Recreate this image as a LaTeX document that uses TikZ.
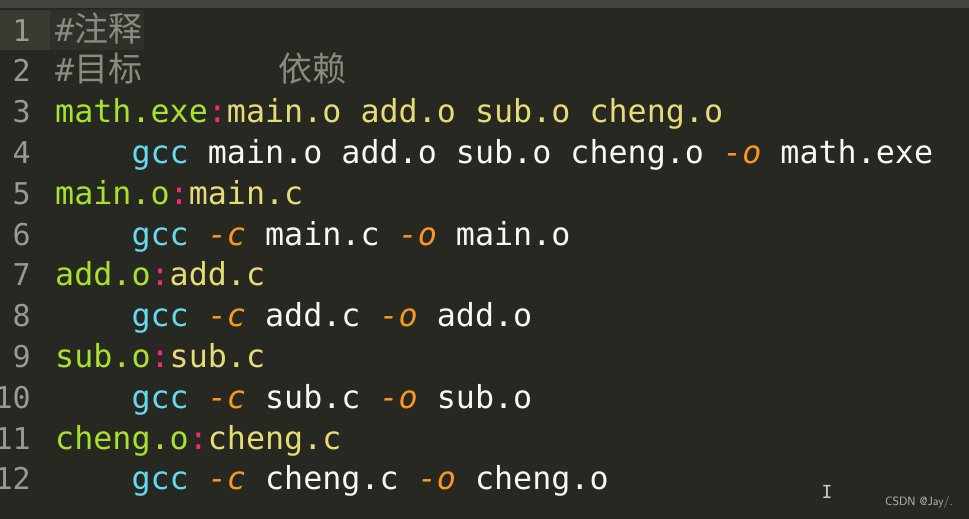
\documentclass[tikz,border=0pt]{standalone}
\usepackage{fontspec}
\setmonofont{DejaVu Sans Mono}
\newfontfamily\cjk{Noto Sans CJK SC}
\definecolor{bg}{HTML}{272822}
\definecolor{gut}{HTML}{3A3A33}
\definecolor{sel}{HTML}{302F2A}
\definecolor{tabbar}{HTML}{45453F}
\definecolor{wmc}{HTML}{BBBBB5}
\definecolor{curc}{HTML}{CCCCCC}
\definecolor{cmt}{HTML}{8A8A80}
\definecolor{grn}{HTML}{A6E22E}
\definecolor{pnk}{HTML}{F92672}
\definecolor{yel}{HTML}{E6DB74}
\definecolor{blu}{HTML}{66D9EF}
\definecolor{org}{HTML}{FD971F}
\definecolor{wht}{HTML}{F8F8F2}
\definecolor{num}{HTML}{9A9A94}
\newcommand\cG[1]{\textcolor{grn}{#1}}
\newcommand\cP[1]{\textcolor{pnk}{#1}}
\newcommand\cY[1]{\textcolor{yel}{#1}}
\newcommand\cB[1]{\textcolor{blu}{#1}}
\newcommand\cO[1]{\textcolor{org}{\itshape #1}}
\newcommand\cW[1]{\textcolor{wht}{#1}}
\begin{document}
\begin{tikzpicture}[x=1pt,y=-1pt,
  code/.style={anchor=mid west,inner sep=0pt,font=\ttfamily\fontsize{31.7}{32}\selectfont},
  ln/.style={anchor=mid east,inner sep=0pt,text=num,font=\ttfamily\fontsize{30}{32}\selectfont}]
\fill[bg] (0,0) rectangle (969,519);
\useasboundingbox (0,0) rectangle (969,519);
\fill[tabbar] (0,0) rectangle (969,8);
\fill[gut] (0,10) rectangle (50,50);
\fill[sel] (50,10) rectangle (144,50);
\foreach \i in {1,...,12}{
  \node[ln] (n\i) at (31,{39+40.8*(\i-1)}) {\i};
}
\node[code,text=cmt] (l1) at (55,39) {\#{\cjk\fontsize{34}{34}\selectfont 注释}};
\node[code,text=cmt] (l2) at (55,79.8) {\#{\cjk\fontsize{34}{34}\selectfont 目标}};
\node[code,text=cmt] (l2b) at (278,79.8) {{\cjk\fontsize{34}{34}\selectfont 依赖}};
\node[code] (l3) at (55,120.6) {\cG{math.exe}\cP{:}\cY{main.o add.o sub.o cheng.o}};
\node[code] (l4) at (55,161.4) {\phantom{xxxx}\cB{gcc} \cW{main.o add.o sub.o cheng.o} \cO{-o} \cW{math.exe}};
\node[code] (l5) at (55,202.2) {\cG{main.o}\cP{:}\cY{main.c}};
\node[code] (l6) at (55,243) {\phantom{xxxx}\cB{gcc} \cO{-c} \cW{main.c} \cO{-o} \cW{main.o}};
\node[code] (l7) at (55,283.8) {\cG{add.o}\cP{:}\cY{add.c}};
\node[code] (l8) at (55,324.6) {\phantom{xxxx}\cB{gcc} \cO{-c} \cW{add.c} \cO{-o} \cW{add.o}};
\node[code] (l9) at (55,365.4) {\cG{sub.o}\cP{:}\cY{sub.c}};
\node[code] (l10) at (55,406.2) {\phantom{xxxx}\cB{gcc} \cO{-c} \cW{sub.c} \cO{-o} \cW{sub.o}};
\node[code] (l11) at (55,447) {\cG{cheng.o}\cP{:}\cY{cheng.c}};
\node[code] (l12) at (55,487.8) {\phantom{xxxx}\cB{gcc} \cO{-c} \cW{cheng.c} \cO{-o} \cW{cheng.o}};
\node[anchor=mid east,inner sep=0pt,text=wmc,font=\sffamily\fontsize{12}{14}\selectfont] (wm) at (953,503) {CSDN @Jay/.};
\node[inner sep=0pt,text=curc,font=\ttfamily\fontsize{18}{18}\selectfont] (cur) at (827,492) {I};
\end{tikzpicture}
\end{document}
